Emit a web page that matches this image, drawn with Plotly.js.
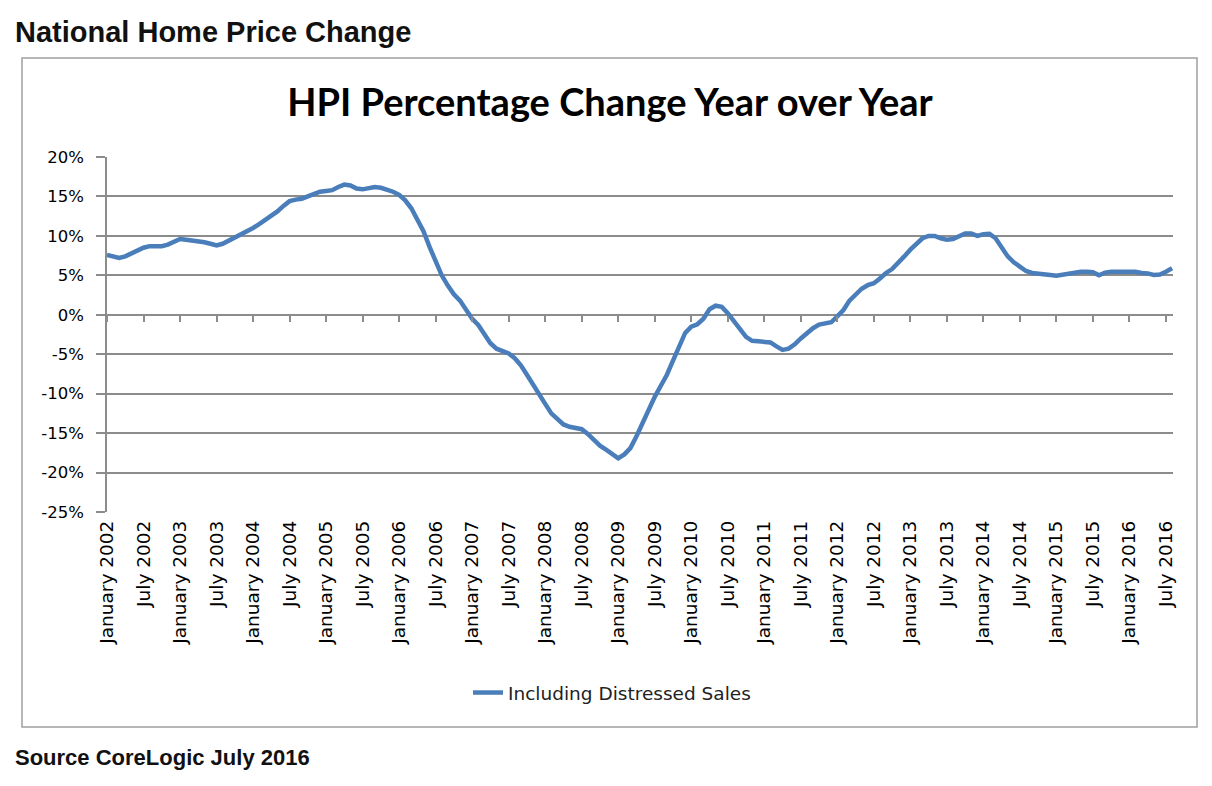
<!DOCTYPE html>
<html>
<head>
<meta charset="utf-8">
<script src="https://cdn.plot.ly/plotly-3.0.1.min.js"></script>
<style>
html,body{margin:0;padding:0;background:#fff;}
#chart{width:1212px;height:786px;}
</style>
</head>
<body>
<div id="chart"></div>
<script>
// ---- DATA (HPI % change year over year, monthly) ----
const monthNames = ['January','February','March','April','May','June','July','August','September','October','November','December'];
const years = [2002,2003,2004,2005,2006,2007,2008,2009,2010,2011,2012,2013,2014,2015,2016];
const hpi2002 = [7.6,7.4,7.2,7.4,7.8,8.1,8.5,8.7,8.7,8.7,8.9,9.2];
const hpi2003 = [9.6,9.5,9.4,9.4,9.2,9.0,8.8,9.0,9.4,9.8,10.1,10.5];
const hpi2004 = [11.0,11.5,12.0,12.5,13.1,13.8,14.4,14.6,14.7,15.0,15.25,15.6];
const hpi2005 = [15.7,15.8,16.2,16.5,16.4,16.0,15.9,16.1,16.2,16.1,15.9,15.6];
const hpi2006 = [15.2,14.5,13.5,12.0,10.6,8.6,6.8,5.0,3.7,2.6,1.8,0.7];
const hpi2007 = [-0.5,-1.3,-2.4,-3.6,-4.3,-4.6,-4.9,-5.5,-6.4,-7.6,-8.9,-10.2];
const hpi2008 = [-11.3,-12.5,-13.2,-13.9,-14.2,-14.3,-14.5,-15.1,-15.8,-16.6,-17.1,-17.6];
const hpi2009 = [-18.2,-17.7,-16.9,-15.4,-13.7,-12.1,-10.4,-9.0,-7.6,-5.8,-4.0,-2.3];
const hpi2010 = [-1.5,-1.2,-0.5,0.7,1.15,1.0,0.2,-0.8,-1.9,-2.8,-3.3,-3.4];
const hpi2011 = [-3.4,-3.5,-4.0,-4.45,-4.3,-3.75,-3.0,-2.3,-1.7,-1.25,-1.15,-0.95];
const hpi2012 = [-0.2,0.6,1.8,2.6,3.3,3.75,4.0,4.6,5.3,5.8,6.7,7.4];
const hpi2013 = [8.25,8.95,9.7,10.0,10.0,9.7,9.5,9.6,10.0,10.3,10.3,10.0];
const hpi2014 = [10.2,10.25,9.7,8.65,7.4,6.65,6.05,5.55,5.3,5.25,5.2,5.05];
const hpi2015 = [4.95,5.1,5.25,5.35,5.45,5.45,5.4,5.0,5.35,5.45,5.45,5.45];
const hpi2016 = [5.45,5.45,5.3,5.25,5.05,5.1,5.45,5.9];
const seriesByYear = [hpi2002,hpi2003,hpi2004,hpi2005,hpi2006,hpi2007,hpi2008,hpi2009,hpi2010,hpi2011,hpi2012,hpi2013,hpi2014,hpi2015,hpi2016];
const yTickValues = [-25,-20,-15,-10,-5,0,5,10,15,20];
const seriesName = 'Including Distressed Sales';
const chartTitle = 'HPI Percentage Change Year over Year';
const pageTitle = 'National Home Price Change';
const sourceText = 'Source CoreLogic July 2016';

// categories (month labels) and values
const cats = [], vals = [];
years.forEach((yr, i) => {
  seriesByYear[i].forEach((v, m) => { cats.push(monthNames[m] + ' ' + yr); vals.push(v); });
});
const tickCats = cats.filter((c, i) => i % 6 === 0);
const yTickText = yTickValues.map(v => String(v) + '%');

// ---- LAYOUT HELPERS (pixel -> paper) ----
const W = 1212, H = 786;
const L = 107, R = 1173, T = 157, B = 512;
const px = x => (x - L) / (R - L);
const py = y => (B - y) / (B - T);
const xEnd = (R - L) / 6.086;

const gridGrey = '#8c8c8c';

const data = [
  {x: cats, y: vals, type: 'scatter', mode: 'lines', name: seriesName,
   line: {color: '#4A7EBB', width: 4.5}, hoverinfo: 'x+y'},
  {x: cats, y: vals, type: 'scatter', mode: 'lines', xaxis: 'x2', yaxis: 'y',
   line: {color: 'rgba(0,0,0,0)', width: 0}, opacity: 0, showlegend: false, hoverinfo: 'skip'}
];

const layout = {
  width: W, height: H,
  margin: {l: L, r: W - R, t: T, b: H - B, pad: 0},
  paper_bgcolor: '#fff', plot_bgcolor: '#fff',
  showlegend: true,
  title: {text: chartTitle, x: 610 / W, xref: 'container', xanchor: 'center',
          y: 1 - 103 / H, yref: 'container', yanchor: 'middle',
          font: {family: 'Lato, sans-serif', size: 38, weight: 'bold', color: '#000'}},
  xaxis: {type: 'category', range: [0, xEnd], tickmode: 'array', tickvals: tickCats, ticktext: tickCats,
          tickangle: -90, ticks: '', showgrid: false, showline: false, zeroline: false,
          ticklabelstandoff: 4,
          tickfont: {family: 'DejaVu Sans, Verdana, sans-serif', size: 18.5, color: '#000'}},
  xaxis2: {type: 'category', overlaying: 'x', anchor: 'free', position: 25 / 45, range: [0, xEnd],
           tickmode: 'array', tickvals: tickCats, ticks: 'outside', ticklen: 6, tickwidth: 1.5,
           tickcolor: gridGrey, showticklabels: false, showgrid: false, showline: false, zeroline: false},
  yaxis: {range: [-25, 20], tickmode: 'array', tickvals: yTickValues, ticktext: yTickText,
          showline: true, linecolor: gridGrey,
          linewidth: 1.5, ticks: 'outside', ticklen: 9, tickwidth: 1.5, tickcolor: gridGrey,
          showgrid: true, gridcolor: gridGrey, gridwidth: 1.5, zeroline: false,
          ticklabelstandoff: 9,
          tickfont: {family: 'DejaVu Sans, Verdana, sans-serif', size: 16.5, color: '#000'}},
  legend: {orientation: 'h', x: px(612), xanchor: 'center', y: py(693), yanchor: 'middle',
           font: {family: 'DejaVu Sans, Verdana, sans-serif', size: 18.5, color: '#222'},
           bgcolor: 'rgba(0,0,0,0)'},
  shapes: [
    {type: 'rect', xref: 'paper', yref: 'paper', x0: px(22), x1: px(1197), y0: py(58), y1: py(727),
     line: {color: '#a0a0a0', width: 1.5}, fillcolor: 'rgba(0,0,0,0)', layer: 'below'}
  ],
  annotations: [
    {text: '<b>' + pageTitle + '</b>', xref: 'paper', yref: 'paper', x: px(13), y: py(32),
     xanchor: 'left', yanchor: 'middle', showarrow: false,
     font: {family: 'Liberation Sans, Arial, sans-serif', size: 29, color: '#111'}},
    {text: '<b>' + sourceText + '</b>', xref: 'paper', yref: 'paper', x: px(13), y: py(757),
     xanchor: 'left', yanchor: 'middle', showarrow: false,
     font: {family: 'Liberation Sans, Arial, sans-serif', size: 22, color: '#111'}}
  ]
};

Plotly.newPlot('chart', data, layout, {displayModeBar: false});
</script>
</body>
</html>
